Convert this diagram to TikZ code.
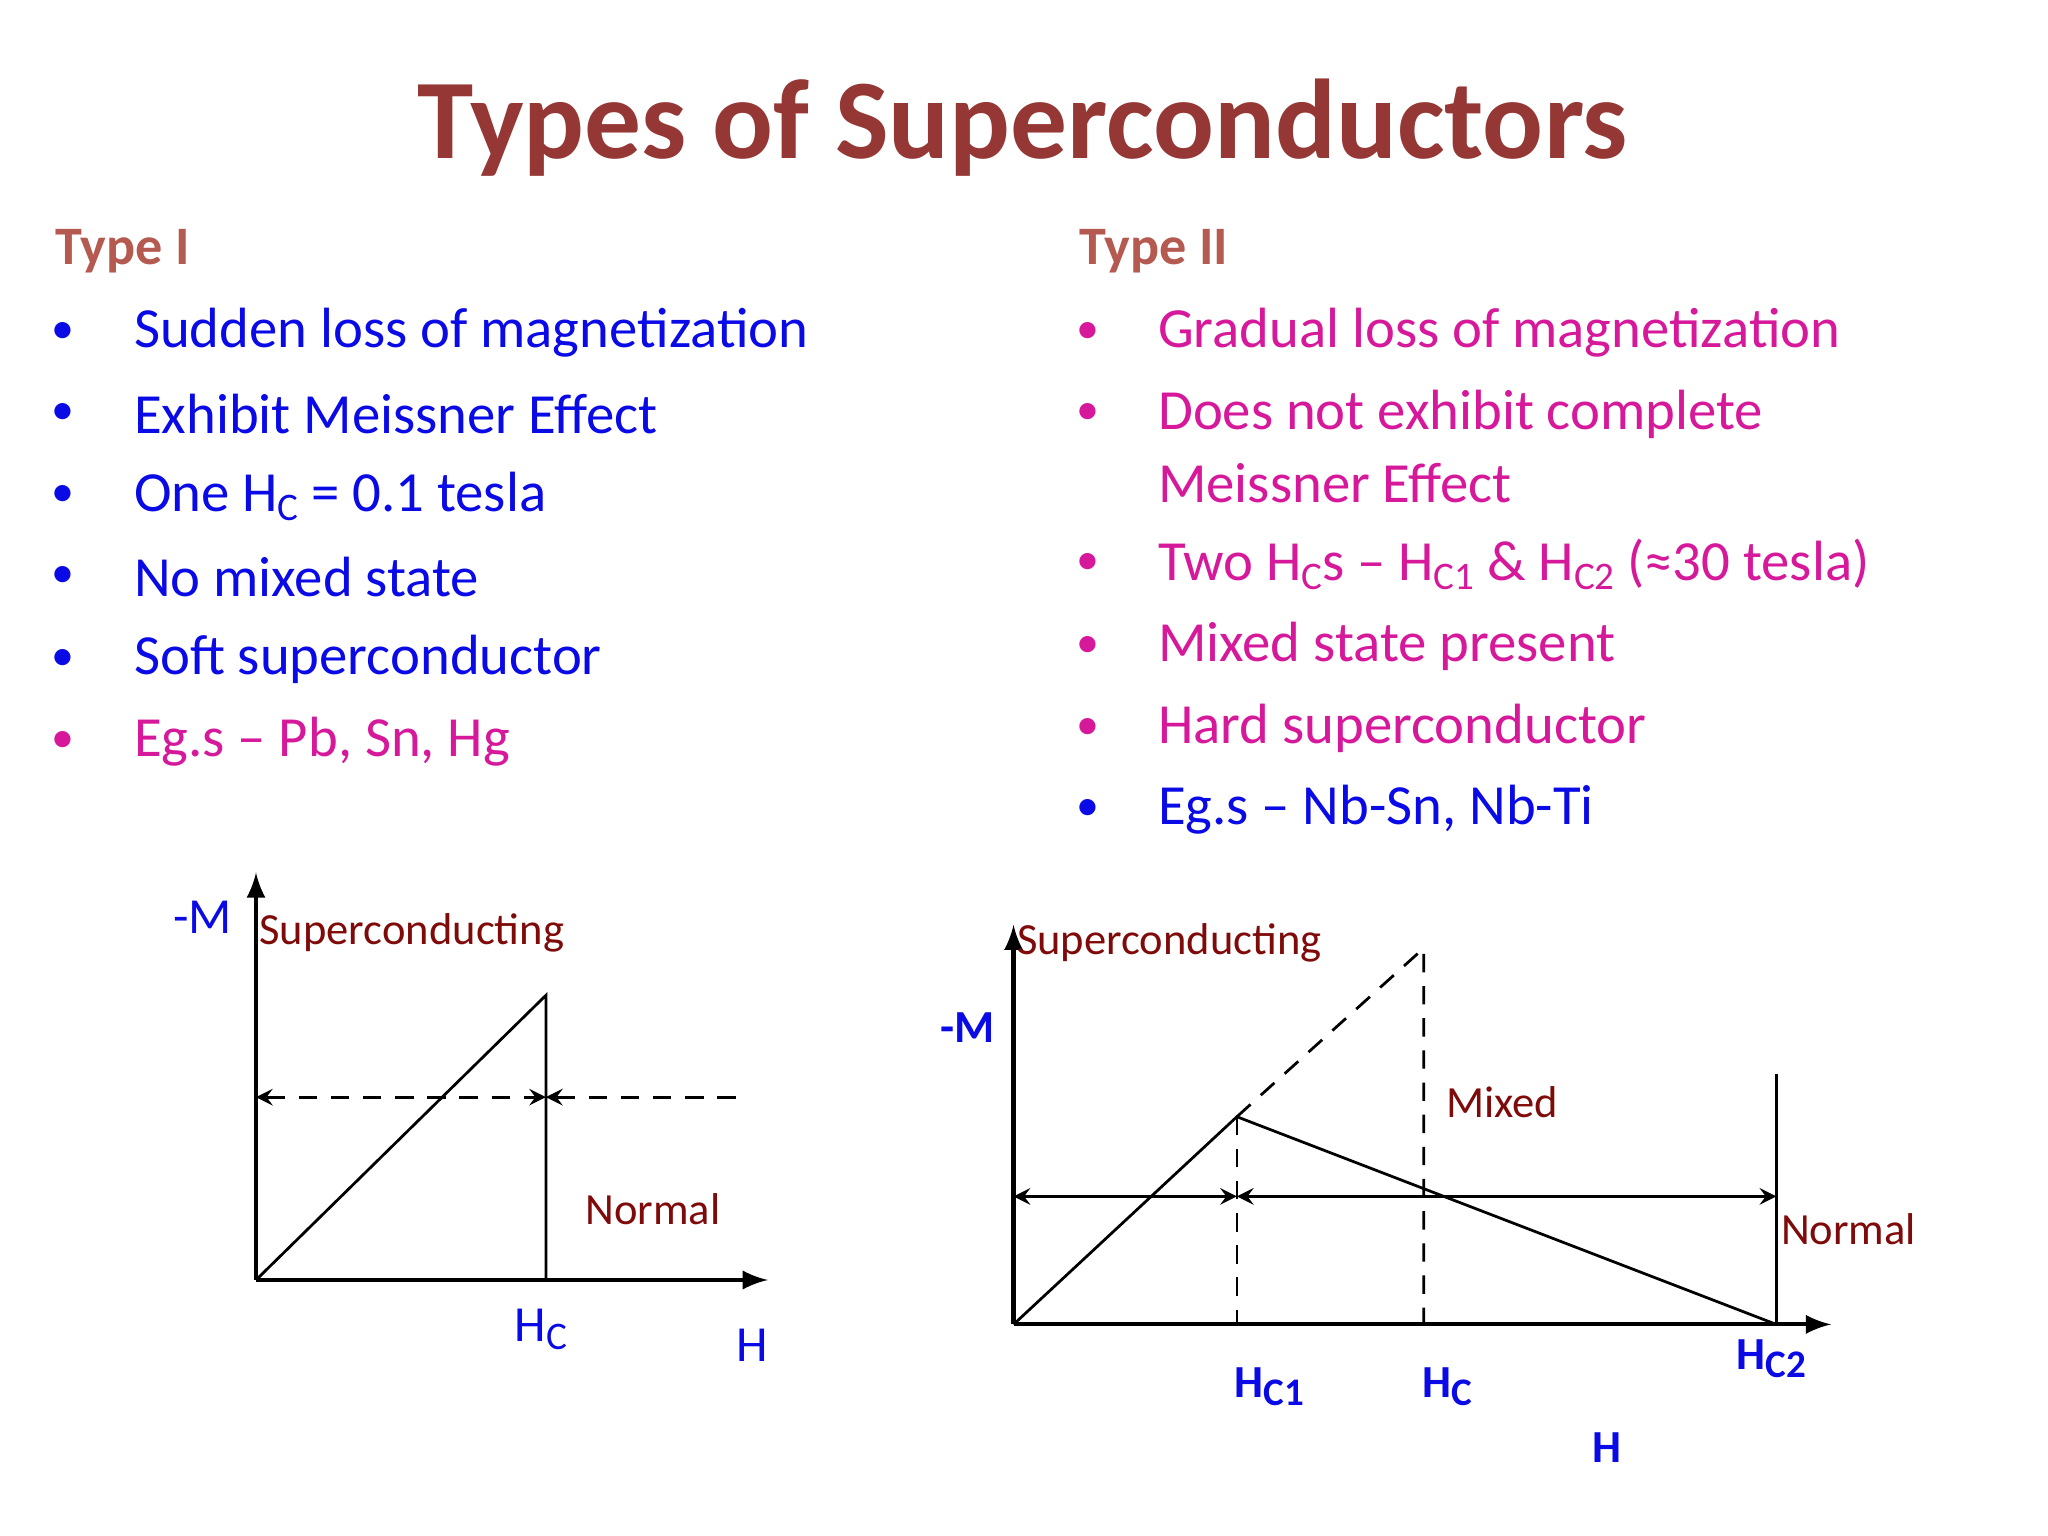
\documentclass[tikz,border=0pt]{standalone}
\usepackage{fontspec}
\setmainfont{Carlito}
\definecolor{ttl}{HTML}{953735}
\definecolor{hd}{HTML}{B55A50}
\definecolor{bl}{HTML}{0A0AE6}
\definecolor{mg}{HTML}{D6189A}
\definecolor{dr}{HTML}{7F0A0A}
\newcommand{\sbt}[1]{\raisebox{-0.35ex}{\fontsize{8.5}{9}\selectfont #1}}
\begin{document}
\begin{tikzpicture}[x=0.01cm,y=-0.01cm,
 body/.style={anchor=west,inner sep=0pt,font=\fontsize{12.35}{15}\selectfont},
 bul/.style={anchor=center,inner sep=0pt,font=\fontsize{10}{15}\selectfont},
 gl/.style={inner sep=0pt,font=\fontsize{9.7}{11}\selectfont},
 ax/.style={line width=0.9pt,-latex},
 ln/.style={line width=0.6pt},
 dl/.style={line width=0.6pt,dash pattern=on 4pt off 3pt}]
\useasboundingbox (0,0) rectangle (1568,1176);
\node[font=\fontsize{24.7}{30}\selectfont\bfseries,text=ttl,inner sep=0pt] (title) at (783,98) {Types of Superconductors};
\node[anchor=west,inner sep=0pt,font=\fontsize{11.8}{13}\selectfont\bfseries,text=hd] (t1) at (42,192) {Type I};
\node[anchor=west,inner sep=0pt,font=\fontsize{11.8}{13}\selectfont\bfseries,text=hd] (t2) at (826,192) {Type II};
% left list
\foreach \y/\c/\t [count=\i] in {255/bl/{Sudden loss of magnetization},317/bl/{Exhibit Meissner Effect},380/bl/{One H\sbt{C} = 0.1 tesla},442/bl/{No mixed state},505/bl/{Soft superconductor},568/mg/{Eg.s – Pb, Sn, Hg}}{
 \node[bul,text=\c] (lb\i) at (48,\y) {•};
 \node[body,text=\c] (lt\i) at (102,\y) {\t};
}
% right list
\foreach \y/\c/\t [count=\i] in {255/mg/{Gradual loss of magnetization},317/mg/{Does not exhibit complete},432/mg/{Two H\sbt{C}s – H\sbt{C1} \& H\sbt{C2} (≈30 tesla)},495/mg/{Mixed state present},558/mg/{Hard superconductor},620/bl/{Eg.s – Nb-Sn, Nb-Ti}}{
 \node[bul,text=\c] (rb\i) at (833,\y) {•};
 \node[body,text=\c] (rt\i) at (886,\y) {\t};
}
\node[body,text=mg] (rt2b) at (886,370) {Meissner Effect};
% left graph
\coordinate (o1) at (196,980);
\coordinate (y1) at (196,668);
\coordinate (x1) at (588,980);
\coordinate (p1) at (418,762);
\coordinate (b1) at (418,980);
\coordinate (dl1) at (196,840);
\coordinate (dm1) at (418,840);
\coordinate (dr1) at (565,840);
\draw[ax] (o1) -- (y1);
\draw[ax] (o1) -- (x1);
\draw[ln] (o1) -- (p1) -- (b1);
\draw[dl,<->,>=stealth] (dl1) -- (dm1);
\draw[dl,<-,>=stealth] (dm1) -- (dr1);
\node[gl,text=bl,font=\fontsize{11}{12}\selectfont] (m1) at (155,702) {-M};
\node[gl,text=dr,anchor=west] (s1) at (198,714) {Superconducting};
\node[gl,text=dr] (n1) at (500,926) {Normal};
\node[gl,text=bl,font=\fontsize{11}{12}\selectfont] (hc1) at (414,1018) {H\sbt{C}};
\node[gl,text=bl,font=\fontsize{11}{12}\selectfont] (h1) at (576,1030) {H};
% right graph
\coordinate (o2) at (776,1014);
\coordinate (y2) at (776,708);
\coordinate (x2) at (1402,1014);
\coordinate (k) at (947,855);
\coordinate (t) at (1090,726);
\coordinate (tb) at (1090,1014);
\coordinate (kb) at (947,1014);
\coordinate (e) at (1360,1014);
\coordinate (et) at (1360,822);
\coordinate (a1) at (776,916);
\coordinate (a2) at (947,916);
\coordinate (a3) at (1360,916);
\draw[ax] (o2) -- (y2);
\draw[ax] (o2) -- (x2);
\draw[ln] (o2) -- (k) -- (e);
\draw[dl] (k) -- (t) -- (tb);
\draw[dl] (k) -- (kb);
\draw[ln] (et) -- (e);
\draw[ln,<->,>=stealth] (a1) -- (a2);
\draw[ln,<->,>=stealth] (a2) -- (a3);
\node[gl,text=dr,anchor=west] (s2) at (778,722) {Superconducting};
\node[gl,text=bl,font=\fontsize{10}{12}\selectfont\bfseries] (m2) at (741,787) {-M};
\node[gl,text=dr] (mx) at (1150,844) {Mixed};
\node[gl,text=dr,anchor=west] (n2) at (1363,941) {Normal};
\node[gl,text=bl,font=\fontsize{10}{12}\selectfont\bfseries] (hc21) at (972,1062) {H\sbt{C1}};
\node[gl,text=bl,font=\fontsize{10}{12}\selectfont\bfseries] (hc2) at (1108,1062) {H\sbt{C}};
\node[gl,text=bl,font=\fontsize{10}{12}\selectfont\bfseries] (hc22) at (1356,1040) {H\sbt{C2}};
\node[gl,text=bl,font=\fontsize{10}{12}\selectfont\bfseries] (h2) at (1230,1108) {H};
\end{tikzpicture}
\end{document}
